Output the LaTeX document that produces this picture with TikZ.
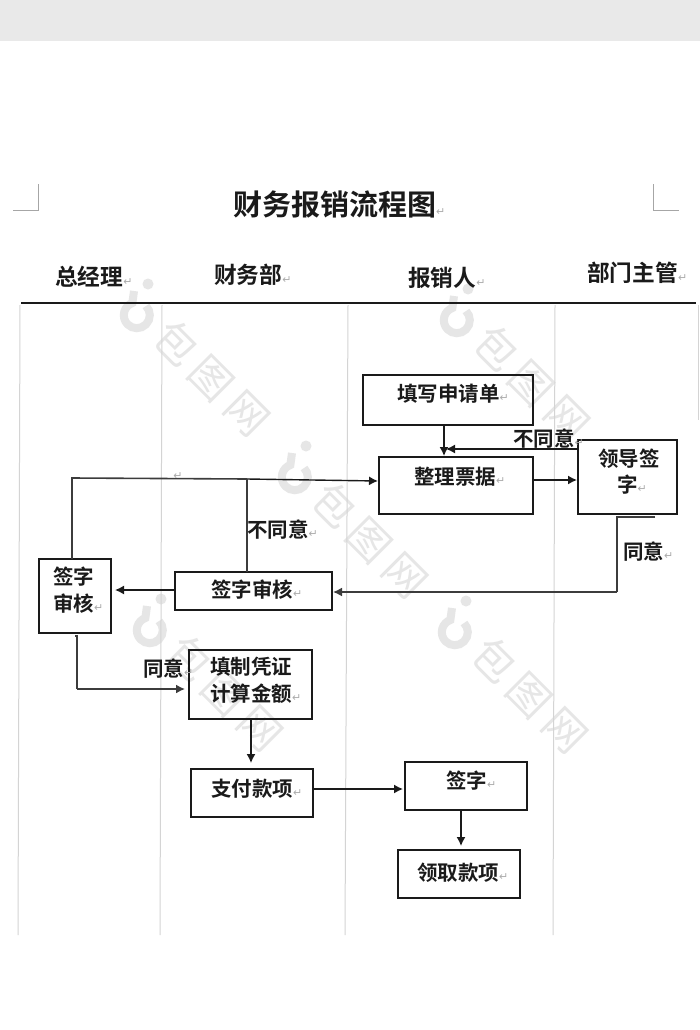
\documentclass[tikz,border=0pt]{standalone}
\usepackage{fontspec}
\setmainfont{Noto Sans CJK SC}[BoldFont={Noto Sans CJK SC Bold}]
\newfontfamily\cjkb{Noto Sans CJK SC Bold}
\newfontfamily\cjkr{Noto Sans CJK SC}
\newfontfamily\dvfont{DejaVu Sans}
\usetikzlibrary{arrows.meta,calc}
\definecolor{band}{HTML}{E9E9E9}
\definecolor{lane}{HTML}{D4D4D4}
\definecolor{wm}{HTML}{E6E6E6}
\definecolor{ink}{HTML}{1A1A1A}
\newcommand{\rtn}{{\dvfont\fontsize{11}{11}\selectfont\textcolor{gray!65}{↵}}}
\newcommand{\wmk}[2]{%
  \begin{scope}[shift={(#1,#2)}]
    \draw[wm,line width=8pt] (9,-9) arc[start angle=45,end angle=-250,radius=13pt] -- (-3,-24);
    \fill[wm] (11,-31) circle[radius=5.5pt];
    \node[text=wm,rotate=-45,font=\cjkr\fontsize{42}{42}\selectfont,inner sep=0pt] at (75,63) {包\hspace{8pt}图\hspace{8pt}网};
  \end{scope}}
\tikzset{
  x=1pt,y=-1pt,
  box/.style={draw=ink,line width=1.4pt,fill=none,rectangle,inner sep=0pt,outer sep=0pt},
  lab/.style={anchor=west,inner sep=0pt,text=ink,font=\cjkb\fontsize{20.5}{20.5}\selectfont},
  head/.style={anchor=west,inner sep=0pt,text=ink,font=\cjkb\fontsize{22.7}{22.7}\selectfont},
  arr/.style={draw=ink,line width=1.4pt,-{Latex[length=9pt,width=9pt]}},
  arrg/.style={draw=ink!85,line width=1.6pt,-{Latex[length=9pt,width=9pt]}},
  flow/.style={draw=ink!85,line width=1.6pt},
  lanel/.style={draw=lane,line width=1pt},
  cropm/.style={draw=gray!70,line width=.7pt}
}
\begin{document}
\begin{tikzpicture}
\useasboundingbox (0,0) rectangle (700,1030);
\fill[white] (0,0) rectangle (700,1030);
\fill[band] (0,0) rectangle (700,41);
\wmk{137}{315}
\wmk{457}{320}
\wmk{295}{477}
\wmk{150}{630}
\wmk{455}{632}
% crop marks
\draw[cropm] (13,210) -- (38,210) -- (38,184);
\draw[cropm] (653,184) -- (653,210) -- (679,210);
% lanes
\draw[lanel] (20,305) -- (18,935);
\draw[lanel] (162,305) -- (160,935);
\draw[lanel] (348,305) -- (345,935);
\draw[lanel] (555,305) -- (553,935);
\draw[lanel] (698,305) -- (698,420);
\draw[draw=ink,line width=1.4pt] (21,303) -- (696,303);
% title and headers
\node[anchor=west,inner sep=0pt,text=ink,font=\cjkb\fontsize{29}{29}\selectfont] (title) at (233,205) {财务报销流程图\rtn};
\node[head] (h1) at (55,277) {总经理\rtn};
\node[head] (h2) at (214,275) {财务部\rtn};
\node[head] (h3) at (408,278) {报销人\rtn};
\node[head] (h4) at (587,273) {部门主管\rtn};
% boxes
\node[box,minimum width=170pt,minimum height=50pt] (fill) at (448,400) {};
\node[box,minimum width=154pt,minimum height=57pt] (sort) at (456,485.5) {};
\node[box,minimum width=99pt,minimum height=74pt] (lead) at (627.5,477) {};
\node[box,minimum width=72pt,minimum height=74pt] (gm) at (75,596) {};
\node[box,minimum width=157pt,minimum height=38pt] (fin) at (253.5,591) {};
\node[box,minimum width=123pt,minimum height=69pt] (vou) at (250.5,684.5) {};
\node[box,minimum width=122pt,minimum height=48pt] (pay) at (252,793) {};
\node[box,minimum width=122pt,minimum height=48pt] (sign) at (466,786) {};
\node[box,minimum width=122pt,minimum height=48pt] (get) at (459,874) {};
% box texts
\node[lab] (t1) at (397,394) {填写申请单\rtn};
\node[lab] (t2) at (414,477) {整理票据\rtn};
\node[lab] (t3) at (598,459) {领导签};
\node[lab] (t3b) at (617,485) {字\rtn};
\node[lab] (t4) at (53,577) {签字};
\node[lab] (t4b) at (53,604) {审核\rtn};
\node[lab] (t5) at (211,590) {签字审核\rtn};
\node[lab] (t6) at (210,667) {填制凭证};
\node[lab] (t6b) at (210,694) {计算金额\rtn};
\node[lab] (t7) at (211,789) {支付款项\rtn};
\node[lab] (t8) at (446,781) {签字\rtn};
\node[lab] (t9) at (417,873) {领取款项\rtn};
% connector labels
\node[lab] (l1) at (513,439) {不同意\rtn};
\node[lab] (l2) at (623,552) {同意\rtn};
\node[lab] (l3) at (247,530) {不同意\rtn};
\node[lab] (l4) at (143,669) {同意\rtn};
\node[inner sep=0pt] (mk) at (178,476) {\rtn};
% free ends
\coordinate (agreeS) at (655,517);
\coordinate (agreeB) at (617,517);
\coordinate (agreeC) at (617,592);
\coordinate (gmS) at (75,636);
\coordinate (gmB) at (77,689);
\coordinate (top) at (72,478);
\coordinate (joint) at (247,479);
\coordinate (fillOut) at (444,425);
\coordinate (sortIn) at (444,456);
\coordinate (leadOut) at (578,449);
\coordinate (sortTop) at (446,449);
\coordinate (sortOut) at (533,480);
\coordinate (leadIn) at (577,480);
\coordinate (sortL) at (378,481);
\coordinate (gmTop) at (72,559);
\coordinate (finTop) at (247,572);
\coordinate (finIn) at (333,592);
\coordinate (finL) at (175,590);
\coordinate (gmR) at (115,590);
\coordinate (vouL) at (185,689);
\coordinate (vouB) at (251,719);
\coordinate (payT) at (251,763);
\coordinate (payR) at (313,789);
\coordinate (signL) at (403,789);
\coordinate (signB) at (461,810);
\coordinate (getT) at (461,846);
% connectors
\draw[arr] (fillOut) -- (sortIn);
\draw[arr] (leadOut) -- (sortTop);
\draw[arr] (sortOut) -- (leadIn);
\draw[flow] (gmTop) -- (top) -- (joint);
\draw[arr] (joint) -- (sortL);
\draw[flow] (finTop) -- (joint);
\draw[flow] (agreeS) -- (agreeB) -- (agreeC);
\draw[arrg] (agreeC) -- (finIn);
\draw[arr] (finL) -- (gmR);
\draw[flow] (gmS) -- (77,636) -- (gmB);
\draw[arrg] (gmB) -- (vouL);
\draw[arr] (vouB) -- (payT);
\draw[arr] (payR) -- (signL);
\draw[arr] (signB) -- (getT);
\end{tikzpicture}
\end{document}
